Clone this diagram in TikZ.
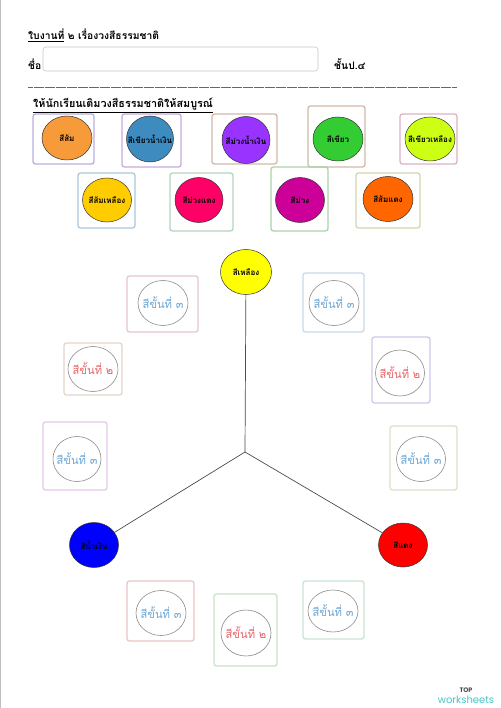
\documentclass[tikz,border=0pt]{standalone}
\usepackage{fontspec}
\newfontfamily\thai[Script=Thai]{Loma}
\newfontfamily\logofont{Poppins}
\usetikzlibrary{shapes.geometric}
\definecolor{ansblue}{HTML}{6FA8D6}
\definecolor{ansred}{HTML}{E8676B}
\definecolor{logoteal}{HTML}{4BC3C6}
\definecolor{corange}{HTML}{F79A3A}
\definecolor{cteal}{HTML}{3D8BBF}
\definecolor{cviolet}{HTML}{9933FF}
\definecolor{cgreen}{HTML}{33CC33}
\definecolor{cyg}{HTML}{CCFF14}
\definecolor{cyo}{HTML}{FFCC00}
\definecolor{crv}{HTML}{FF0066}
\definecolor{cpurple}{HTML}{CC0099}
\definecolor{cro}{HTML}{FF6600}
\definecolor{cyellow}{HTML}{FFFF00}
\definecolor{cblue}{HTML}{0000FF}
\definecolor{cred}{HTML}{FF0000}
\definecolor{bLav}{HTML}{B9AEDD}
\definecolor{bPur}{HTML}{C9A9DA}
\definecolor{bTan}{HTML}{D2B9AA}
\definecolor{bPink}{HTML}{DDB3C4}
\definecolor{bBlue}{HTML}{A9C7DD}
\definecolor{bGrn}{HTML}{B3D6BE}
\definecolor{bGrn2}{HTML}{A9D3A9}
\definecolor{bOlive}{HTML}{D4D4AE}
\definecolor{aPink}{HTML}{E7C6CB}
\definecolor{aBlue}{HTML}{C7DAEA}
\definecolor{aTan}{HTML}{E3D6C7}
\definecolor{aLav}{HTML}{CECAEC}
\definecolor{aMag}{HTML}{E6C8EC}
\definecolor{aOlive}{HTML}{DDE0CB}
\definecolor{aRose}{HTML}{ECC6C6}
\definecolor{aGrn}{HTML}{C9E3C9}
\definecolor{aGrn2}{HTML}{C8E5D1}
\newcommand\zw[1]{\makebox[0pt]{#1}}
\tikzset{
  frame/.style={draw=#1, line width=1.3pt, rounded corners=2.5pt, inner sep=0pt},
  ball/.style={ellipse, draw=black!80, line width=0.5pt, fill=#1, inner sep=0pt,
     font=\thai\bfseries\fontsize{8}{9}\selectfont, text=black},
  blank/.style={ellipse, draw=black!45, line width=0.6pt, inner sep=0pt, fill=white,
     font=\thai\fontsize{11.2}{13}\selectfont, text=#1},
  branch/.style={draw=black!70, line width=0.7pt}
}
\newcommand\fr[6]{\node[frame=#1, minimum width=#4, minimum height=#5] (#6) at (#2,#3) {};}
\begin{document}
\begin{tikzpicture}[x=1pt,y=-1pt]
\useasboundingbox[fill=white] (0,0) rectangle (500,708);
\draw[black!25, line width=0.8pt] (0.5,0) -- (0.5,708);
% header
\node[anchor=base west, font=\thai\bfseries\fontsize{10.3}{12}\selectfont, inner sep=0pt] (title) at (28,40) {\underline{ใบงานที่} ๒ เรื่องวงสีธรรมชาติ};
\node[anchor=base west, font=\thai\bfseries\fontsize{10.3}{12}\selectfont, inner sep=0pt] (name) at (28,70) {ชื่อ};
\node[draw=black!22, rounded corners=3pt, line width=0.6pt, minimum width=275, minimum height=24, inner sep=0pt] (namebox) at (180.5,59) {};
\node[anchor=base west, font=\thai\bfseries\fontsize{10.3}{12}\selectfont, inner sep=0pt] (grade) at (334,70) {ชั้นป.๔};
\draw[black!60, line width=0.6pt, dash pattern=on 0.5pt off 0.6pt] (28,87) -- (456,87);
\node[anchor=base west, font=\thai\bfseries\fontsize{10.8}{12}\selectfont, inner sep=0pt] (instr) at (33,108) {\underline{ให้นักเรียนเติมวงสีธรรมชาติให้สมบูรณ์}};
% colour frames
\fr{bLav}{63.5}{139}{61}{50}{f1}
\fr{bPur}{151.5}{140.5}{59}{53}{f2}
\fr{bTan}{244.5}{139}{65}{50}{f3}
\fr{bTan}{336.5}{136.5}{57}{61}{f4}
\fr{bPink}{428.5}{139}{57}{50}{f5}
\fr{bBlue}{106.5}{200.5}{57}{55}{f6}
\fr{bGrn}{201.5}{202}{63}{58}{f7}
\fr{bGrn2}{299.5}{199}{57}{64}{f8}
\fr{bOlive}{388}{200.5}{64}{55}{f9}
% colour circles
\node[ball=corange, minimum width=50, minimum height=44] (c1) at (67,138) {\zw{สีส้ม}};
\node[ball=cteal, minimum width=47, minimum height=46] (c2) at (150,139) {\zw{สีเขียวน้ำเงิน}};
\node[ball=cviolet, minimum width=48, minimum height=47] (c3) at (246,140) {\zw{สีม่วงน้ำเงิน}};
\node[ball=cgreen, minimum width=50, minimum height=44] (c4) at (338,139) {\zw{สีเขียว}};
\node[ball=cyg, minimum width=50, minimum height=44] (c5) at (430,139) {\zw{สีเขียวเหลือง}};
\node[ball=cyo, minimum width=49, minimum height=44] (c6) at (107,200) {\zw{สีส้มเหลือง}};
\node[ball=crv, minimum width=48, minimum height=45] (c7) at (199,200) {\zw{สีม่วงแดง}};
\node[ball=cpurple, minimum width=49, minimum height=45] (c8) at (300,200) {\zw{สีม่วง}};
\node[ball=cro, minimum width=50, minimum height=45] (c9) at (388,199) {\zw{สีส้มแดง}};
% answer frames
\fr{aPink}{162.5}{304}{71}{56}{fa}
\fr{aBlue}{333.5}{302.5}{61}{59}{fb}
\fr{aTan}{93}{369}{58}{52}{fc}
\fr{aLav}{401}{370}{58}{66}{fd}
\fr{aMag}{75}{456}{64}{68}{fe}
\fr{aOlive}{423.5}{458}{67}{64}{ff}
\fr{aRose}{160.5}{611}{67}{60}{fg}
\fr{aGrn}{245.5}{630}{63}{72}{fh}
\fr{aGrn2}{333.5}{610}{61}{58}{fi}
\node[blank=ansblue, minimum width=50, minimum height=45] (ea) at (163,303) {\zw{สีขั้นที่ ๓}};
\node[blank=ansblue, minimum width=50, minimum height=45] (eb) at (334,303) {\zw{สีขั้นที่ ๓}};
\node[blank=ansred, minimum width=50, minimum height=45] (ec) at (93,369) {\zw{สีขั้นที่ ๒}};
\node[blank=ansred, minimum width=49, minimum height=46] (ed) at (400,373) {\zw{สีขั้นที่ ๒}};
\node[blank=ansblue, minimum width=48, minimum height=45] (ee) at (77,459) {\zw{สีขั้นที่ ๓}};
\node[blank=ansblue, minimum width=49, minimum height=45] (ef) at (421,459) {\zw{สีขั้นที่ ๓}};
\node[blank=ansblue, minimum width=50, minimum height=45] (eg) at (161,613) {\zw{สีขั้นที่ ๓}};
\node[blank=ansred, minimum width=50, minimum height=46] (eh) at (246,633) {\zw{สีขั้นที่ ๒}};
\node[blank=ansblue, minimum width=50, minimum height=42] (ei) at (333,611) {\zw{สีขั้นที่ ๓}};
% primaries
\node[ball=cyellow, minimum width=51, minimum height=45] (py) at (246,272) {\zw{สีเหลือง}};
\node[ball=cblue, minimum width=49, minimum height=45] (pb) at (94,545) {\zw{สีน้ำเงิน}};
\node[ball=cred, minimum width=49, minimum height=44] (pr) at (403,545) {\zw{สีแดง}};
\coordinate (j) at (245,452);
\draw[branch] (py) -- (j);
\draw[branch] (j) -- (pb);
\draw[branch] (j) -- (pr);
% logo
\node[font=\logofont\bfseries\fontsize{6.5}{7}\selectfont, text=black!70, inner sep=0pt] (top) at (466,690) {TOP};
\node[font=\logofont\fontsize{10}{10}\selectfont, text=logoteal, inner sep=0pt] (ws) at (466,699.5) {worksheets};
\end{tikzpicture}
\end{document}
